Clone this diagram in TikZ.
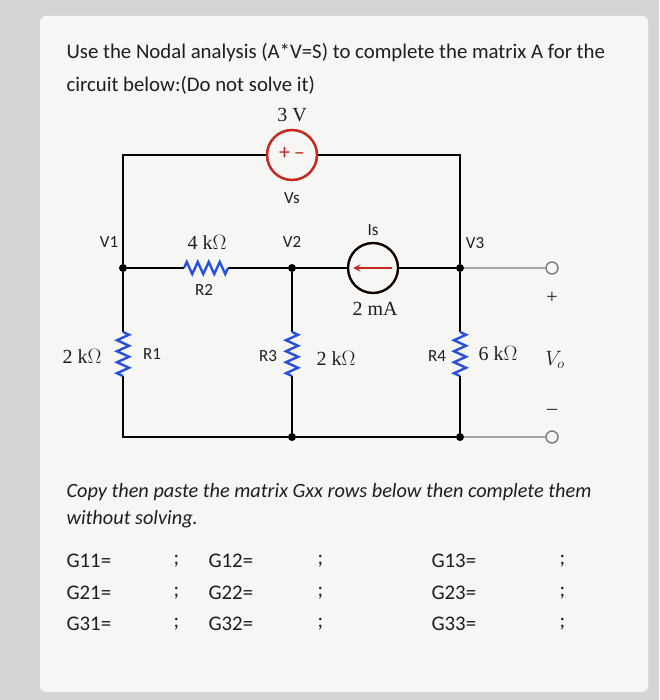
\documentclass[tikz,border=0pt]{standalone}
\usepackage{fontspec}
\setmainfont{Carlito}
\newfontfamily\serif{Liberation Serif}
\usetikzlibrary{decorations.pathmorphing}
\definecolor{wall}{RGB}{212,212,210}
\definecolor{card}{RGB}{246,246,244}
\definecolor{srcred}{RGB}{200,40,30}
\definecolor{resblue}{RGB}{40,80,220}
\definecolor{txt}{RGB}{30,30,30}
\begin{document}
\begin{tikzpicture}[x=1pt,y=-1pt,
  wire/.style={line width=2.8pt,black},
  res/.style={line width=2.4pt,resblue,decorate,decoration={zigzag,segment length=11pt,amplitude=6pt}},
  dot/.style={circle,fill=black,inner sep=0pt,minimum size=8pt},
  term/.style={circle,draw=gray,line width=1.5pt,fill=card,inner sep=0pt,minimum size=12pt},
  src/.style={circle,draw=srcred,line width=2.2pt,minimum size=50pt,inner sep=0pt},
  lbl/.style={font=\fontsize{17}{20}\selectfont,text=txt},
  val/.style={font=\serif\fontsize{20}{22}\selectfont,text=txt},
  body/.style={font=\fontsize{20.8}{26}\selectfont,text=txt,anchor=west}]
\useasboundingbox (0,0) rectangle (659,700);
\fill[wall] (0,0) rectangle (659,700);
\fill[card,rounded corners=6pt] (40,16) rectangle (648,692);
\node[body] (t1) at (63,53) {Use the Nodal analysis (A*V=S) to complete the matrix A for the};
\node[body] (t2) at (63,85) {circuit below:(Do not solve it)};
\coordinate (tl) at (123,155); \coordinate (tr) at (460,155);
\node[dot] (n1) at (123,268) {}; \node[dot] (n2) at (292,268) {}; \node[dot] (n3) at (460,268) {};
\node[dot] (b2) at (292,437) {}; \node[dot] (b3) at (460,437) {};
\coordinate (bl) at (123,437);
\node[src] (vs) at (292,155) {}; \node[src] (is) at (373,268) {};
\node[term] (tp) at (552,268) {}; \node[term] (tm) at (552,437) {};
\coordinate (r1a) at (123,332); \coordinate (r1b) at (123,376);
\coordinate (r2a) at (184,268); \coordinate (r2b) at (228,268);
\coordinate (r3a) at (292,332); \coordinate (r3b) at (292,376);
\coordinate (r4a) at (460,332); \coordinate (r4b) at (460,376);
\draw[wire] (vs.west) -- (tl) -- (n1) -- (r1a); \draw[wire] (r1b) -- (bl) -- (b2) -- (b3);
\draw[wire] (vs.east) -- (tr) -- (n3);
\draw[wire] (n1) -- (r2a); \draw[wire] (r2b) -- (n2) -- (is.west); \draw[wire] (is.east) -- (n3);
\draw[wire] (n2) -- (r3a); \draw[wire] (r3b) -- (b2);
\draw[wire] (n3) -- (r4a); \draw[wire] (r4b) -- (b3);
\draw[line width=2.4pt,gray!70] (n3) -- (tp); \draw[line width=2.4pt,gray!70] (b3) -- (tm);
\draw[res] (r1a) -- (r1b); \draw[res] (r2a) -- (r2b); \draw[res] (r3a) -- (r3b); \draw[res] (r4a) -- (r4b);
\node[src] at (292,155) {}; \node[src,draw=black] at (373,268) {};
\node[text=srcred,font=\fontsize{22}{22}\selectfont] (pm) at (292,153) {+\,\textendash};
\draw[line width=2.2pt,srcred,-stealth] (392,268) -- (353,268);
\node[val] (l3v) at (292,115) {3 V};
\node[lbl] (lvs) at (292,198) {Vs};
\node[lbl] (lv1) at (109,242) {V1};
\node[lbl] (lv2) at (292,242) {V2};
\node[lbl] (lv3) at (475,243) {V3};
\node[lbl] (lis) at (373,230) {Is};
\node[val] (l4k) at (207,242) {4 k$\Omega$};
\node[lbl] (lr2) at (204,290) {R2};
\node[val] (l2m) at (375,309) {2 mA};
\node[val] (l2k1) at (82,356) {2 k$\Omega$};
\node[lbl] (lr1) at (152,354) {R1};
\node[lbl] (lr3) at (268,356) {R3};
\node[val] (l2k3) at (336,358) {2 k$\Omega$};
\node[lbl] (lr4) at (437,356) {R4};
\node[val] (l6k) at (498,354) {6 k$\Omega$};
\node[val] (lvo) at (555,360) {$V_o$};
\node[val] (lplus) at (552,298) {+};
\node[val] (lminus) at (552,412) {\textendash};
\node[body,font=\itshape\fontsize{20.3}{26}\selectfont] (c1) at (63,492) {Copy then paste the matrix Gxx rows below then complete them};
\node[body,font=\itshape\fontsize{20.3}{26}\selectfont] (c2) at (63,519) {without solving.};
\foreach \r/\y in {1/561,2/593,3/624}{
  \node[body] at (63,\y) {G\r1=};
  \node[body] at (170,\y) {;};
  \node[body] at (205,\y) {G\r2=};
  \node[body] at (314,\y) {;};
  \node[body] at (428,\y) {G\r3=};
  \node[body] at (556,\y) {;};
}
\end{tikzpicture}
\end{document}
